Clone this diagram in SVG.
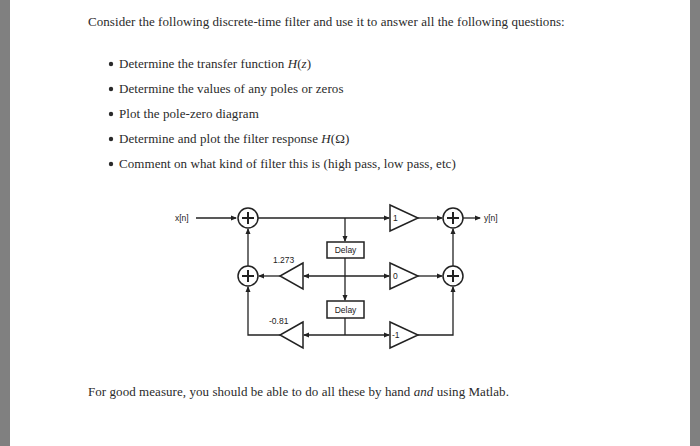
<svg xmlns="http://www.w3.org/2000/svg" width="700" height="446" viewBox="0 0 700 446">
<style>
.t{font-family:"Liberation Serif",serif;font-size:13px;fill:#2a2a2a;letter-spacing:0.06px}
.s{font-family:"Liberation Sans",sans-serif;font-size:8.5px;fill:#222}
.l{stroke:#222;stroke-width:1.3;fill:none}
.n{stroke:#222;stroke-width:1.5;fill:#fff}
.p{stroke:#222;stroke-width:2;fill:none}
.b{fill:#2a2a2a}
</style>
<defs><marker id="a" markerWidth="6" markerHeight="6" refX="5" refY="3" orient="auto" markerUnits="userSpaceOnUse"><path d="M0,0.5L6,3L0,5.5z" fill="#222"/></marker></defs>
<rect width="700" height="446" fill="#fff"/>
<rect x="0" y="0" width="10" height="446" fill="#808080"/>
<rect x="690" y="0" width="10" height="446" fill="#808080"/>
<text class="t" x="88" y="26">Consider the following discrete-time filter and use it to answer all the following questions:</text>
<g class="b"><circle cx="111" cy="64" r="2.2"/><circle cx="111" cy="89" r="2.2"/><circle cx="111" cy="114" r="2.2"/><circle cx="111" cy="139" r="2.2"/><circle cx="111" cy="164" r="2.2"/></g>
<g class="t">
<text x="119" y="68">Determine the transfer function <tspan font-style="italic">H</tspan>(<tspan font-style="italic">z</tspan>)</text>
<text x="119" y="93">Determine the values of any poles or zeros</text>
<text x="119" y="118">Plot the pole-zero diagram</text>
<text x="119" y="143">Determine and plot the filter response <tspan font-style="italic">H</tspan>(Ω)</text>
<text x="119" y="168">Comment on what kind of filter this is (high pass, low pass, etc)</text>
</g>
<text class="t" x="88" y="396">For good measure, you should be able to do all these by hand <tspan font-style="italic">and</tspan> using Matlab.</text>
<g id="connectors" class="l">
<path d="M196,218H236" marker-end="url(#a)"/>
<path d="M258,218H389" marker-end="url(#a)"/>
<path d="M418,218H442" marker-end="url(#a)"/>
<path d="M463,218H480" marker-end="url(#a)"/>
<path d="M345,218V241" marker-end="url(#a)"/>
<path d="M345,258V300" marker-end="url(#a)"/>
<path d="M345,276H304" marker-end="url(#a)"/>
<path d="M345,276H389" marker-end="url(#a)"/>
<path d="M280,276H259" marker-end="url(#a)"/>
<path d="M418,276H442" marker-end="url(#a)"/>
<path d="M248,266V229" marker-end="url(#a)"/>
<path d="M453,266V229" marker-end="url(#a)"/>
<path d="M345,318V335"/>
<path d="M345,335H304" marker-end="url(#a)"/>
<path d="M345,335H389" marker-end="url(#a)"/>
<path d="M280,335H248V287" marker-end="url(#a)"/>
<path d="M418,335H453V287" marker-end="url(#a)"/>
</g>
<g id="in"><text class="s" x="175" y="221">x[n]</text></g>
<g id="out"><text class="s" x="484" y="221">y[n]</text></g>
<g id="sum1"><circle class="n" cx="248" cy="218" r="10"/><path class="p" d="M242,218H254M248,212V224"/></g>
<g id="sum2"><circle class="n" cx="453" cy="218" r="10"/><path class="p" d="M447,218H459M453,212V224"/></g>
<g id="sum3"><circle class="n" cx="248" cy="276" r="10"/><path class="p" d="M242,276H254M248,270V282"/></g>
<g id="sum4"><circle class="n" cx="453" cy="276" r="10"/><path class="p" d="M447,276H459M453,270V282"/></g>
<g id="g1"><path class="n" d="M390,205L418,218L390,231z"/><text class="s" x="393" y="221">1</text></g>
<g id="g0"><path class="n" d="M390,263L418,276L390,289z"/><text class="s" x="393" y="279">0</text></g>
<g id="gm1"><path class="n" d="M390,322L418,335L390,348z"/><text class="s" x="392" y="338">-1</text></g>
<g id="g1273"><path class="n" d="M303,263L280,276L303,289z"/><text class="s" x="273" y="263">1.273</text></g>
<g id="g081"><path class="n" d="M303,322L280,335L303,348z"/><text class="s" x="269" y="324">-0.81</text></g>
<g id="d1"><rect class="n" x="327" y="242" width="37" height="16"/><text class="s" x="345.5" y="253" text-anchor="middle">Delay</text></g>
<g id="d2"><rect class="n" x="327" y="301" width="37" height="17"/><text class="s" x="345.5" y="312.5" text-anchor="middle">Delay</text></g>
</svg>
